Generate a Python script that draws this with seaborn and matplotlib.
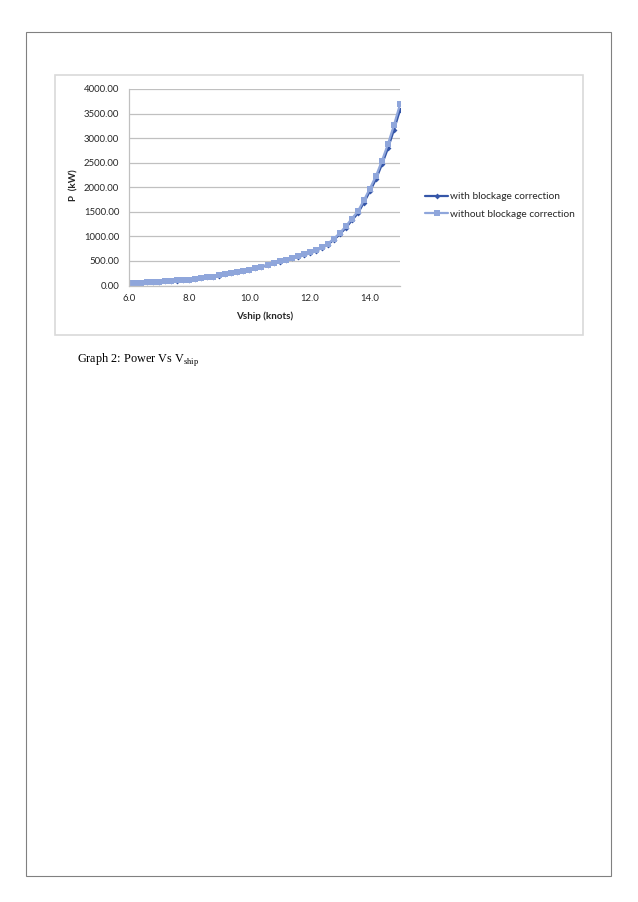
import matplotlib
matplotlib.use("Agg")
import matplotlib.pyplot as plt
import pandas as pd
import seaborn as sns
from matplotlib.patches import Rectangle

# ship speed (knots) and power (kW)
vship = [6.0, 6.2, 6.4, 6.6, 6.8, 7.0, 7.2, 7.4, 7.6, 7.8,
         8.0, 8.2, 8.4, 8.6, 8.8, 9.0, 9.2, 9.4, 9.6, 9.8,
         10.0, 10.2, 10.4, 10.6, 10.8, 11.0, 11.2, 11.4, 11.6, 11.8,
         12.0, 12.2, 12.4, 12.6, 12.8, 13.0, 13.2, 13.4, 13.6, 13.8,
         14.0, 14.2, 14.4, 14.6, 14.8, 15.0]
p_with = [50, 55, 60, 66, 72, 79, 86, 93, 101, 110,
          119, 133, 148, 164, 180, 203, 226, 249, 275, 296,
          321, 350, 380, 414, 448, 483, 517, 551, 587, 624,
          663, 707, 760, 832, 930, 1042, 1174, 1325, 1470, 1688,
          1918, 2162, 2465, 2795, 3170, 3578]
p_without = [50, 55, 60, 66, 72, 79, 86, 94, 102, 111,
             120, 134, 149, 165, 182, 205, 228, 252, 278, 300,
             325, 355, 385, 420, 455, 490, 525, 560, 597, 635,
             675, 720, 775, 850, 952, 1068, 1204, 1361, 1510, 1735,
             1973, 2225, 2537, 2878, 3265, 3687]
series_names = ["with blockage correction", "without blockage correction"]
y_ticks = [0, 500, 1000, 1500, 2000, 2500, 3000, 3500, 4000]
x_ticks = [6.0, 8.0, 10.0, 12.0, 14.0]

df_with = pd.DataFrame({"Vship": vship, "P": p_with})
df_without = pd.DataFrame({"Vship": vship, "P": p_without})

sns.set_theme(style="white")
plt.rcParams["font.family"] = ["Lato", "DejaVu Sans"]
plt.rcParams["mathtext.fontset"] = "custom"
plt.rcParams["mathtext.rm"] = "Liberation Serif"

W, H = 638, 902
fig = plt.figure(figsize=(W / 100, H / 100), dpi=100)

# page border and chart frame
fig.add_artist(Rectangle((26 / W, 1 - 876 / H), 585 / W, 844 / H, transform=fig.transFigure,
                         fill=False, edgecolor="#808080", linewidth=0.8))
fig.add_artist(Rectangle((55 / W, 1 - 335 / H), 528 / W, 260 / H, transform=fig.transFigure,
                         fill=False, edgecolor="#d9d9d9", linewidth=1.2))

ax = fig.add_axes([129 / W, 1 - 285.5 / H, 271 / W, 196.5 / H])
dark = "#3556a8"
light = "#8fa6db"
sns.lineplot(data=df_with, x="Vship", y="P", color=dark, marker="D", markersize=3.0,
             markeredgewidth=0, linewidth=1.6, label=series_names[0],
             errorbar=None, sort=False, ax=ax)
sns.lineplot(data=df_without, x="Vship", y="P", color=light, marker="s", markersize=4.8,
             markeredgewidth=0, linewidth=1.6, label=series_names[1],
             errorbar=None, sort=False, ax=ax)

ax.set_xlim(6.0, 15.0)
ax.set_ylim(0, 4000)
ax.set_yticks(y_ticks)
ax.set_yticklabels([f"{v:.2f}" for v in y_ticks])
ax.set_xticks(x_ticks)
ax.set_xticklabels([f"{v:.1f}" for v in x_ticks])
ax.tick_params(axis="both", length=0, labelsize=6.9, colors="#262626")
ax.tick_params(axis="y", pad=7)
ax.tick_params(axis="x", pad=6)
ax.grid(axis="y", color="#c0c0c0", linewidth=0.9)
ax.grid(axis="x", visible=False)
for s in ["top", "right"]:
    ax.spines[s].set_visible(False)
for s in ["left", "bottom"]:
    ax.spines[s].set_color("#c0c0c0")
    ax.spines[s].set_linewidth(0.9)
ax.set_xlabel("")
ax.set_ylabel("")

fig.text(264.5 / W, 1 - 316 / H, "Vship (knots)", ha="center", va="center",
         fontsize=7.1, fontweight="bold", color="#262626")
fig.text(74 / W, 1 - 185 / H, "P  (kW)", ha="center", va="center", rotation=90,
         fontsize=7.1, fontweight="bold", color="#262626")

handles, labels = ax.get_legend_handles_labels()
ax.get_legend().remove()
fig.legend(handles, labels, loc="center left", bbox_to_anchor=(425 / W, 1 - 205.5 / H),
           frameon=False, fontsize=7.3, handlelength=2.3, handletextpad=0.15,
           labelspacing=0.8, borderaxespad=0, borderpad=0)

fig.text(77 / W, 1 - 359 / H, r"Graph 2: Power Vs V$_{\mathrm{ship}}$", ha="left", va="center",
         fontsize=8.8, family="Liberation Serif", color="black")

fig.savefig("out.png", dpi=100)
plt.close(fig)
